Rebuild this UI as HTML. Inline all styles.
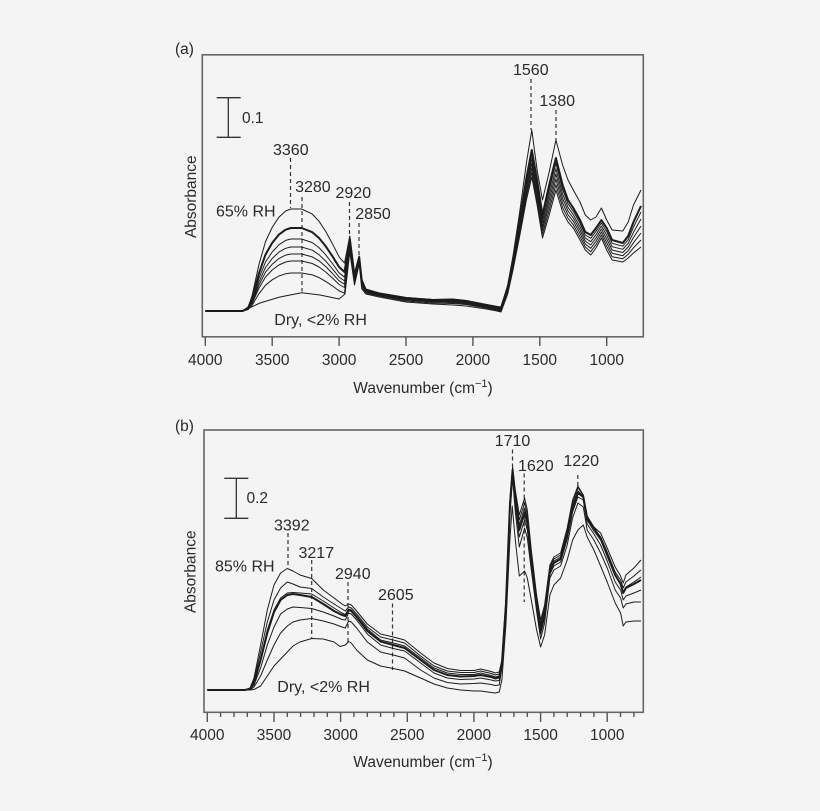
<!DOCTYPE html>
<html>
<head>
<meta charset="utf-8">
<style>
html,body{margin:0;padding:0;background:#f4f4f4;}
svg{display:block;}
text{font-family:"Liberation Sans",Arial,sans-serif;fill:#2a2a2a;}
</style>
</head>
<body>
<svg width="820" height="811" viewBox="0 0 820 811" xmlns="http://www.w3.org/2000/svg">
<rect x="0" y="0" width="820" height="811" fill="#f4f4f4"/>

<!-- ================= PANEL A ================= -->
<text x="175" y="54" font-size="15.5">(a)</text>
<rect x="202.3" y="54.8" width="441" height="282" fill="none" stroke="#666" stroke-width="1.6"/>
<g stroke="#555" stroke-width="1.4">
<line x1="205.3" y1="337" x2="205.3" y2="346"/>
<line x1="272.2" y1="337" x2="272.2" y2="346"/>
<line x1="339.1" y1="337" x2="339.1" y2="346"/>
<line x1="406" y1="337" x2="406" y2="346"/>
<line x1="472.9" y1="337" x2="472.9" y2="346"/>
<line x1="539.8" y1="337" x2="539.8" y2="346"/>
<line x1="606.7" y1="337" x2="606.7" y2="346"/>
</g>
<g font-size="15.5" text-anchor="middle">
<text x="205.3" y="365">4000</text>
<text x="272.2" y="365">3500</text>
<text x="339.1" y="365">3000</text>
<text x="406" y="365">2500</text>
<text x="472.9" y="365">2000</text>
<text x="539.8" y="365">1500</text>
<text x="606.7" y="365">1000</text>
</g>
<text x="423" y="393" font-size="15.5" text-anchor="middle">Wavenumber (cm<tspan dy="-6" font-size="11">−1</tspan><tspan dy="6">)</tspan></text>
<text transform="translate(196,196.7) rotate(-90)" font-size="15.5" text-anchor="middle">Absorbance</text>

<!-- scale bar -->
<g stroke="#333" stroke-width="1.3">
<line x1="228.3" y1="97.7" x2="228.3" y2="137.3"/>
<line x1="216.7" y1="97.7" x2="240.7" y2="97.7"/>
<line x1="216.7" y1="137.3" x2="240.7" y2="137.3"/>
</g>
<text x="242" y="122.8" font-size="15.5">0.1</text>

<!-- dashed markers -->
<g stroke="#333" stroke-width="1.2" stroke-dasharray="4,3">
<line x1="290.5" y1="158" x2="290.5" y2="208"/>
<line x1="302" y1="197" x2="302" y2="291.5"/>
<line x1="349.5" y1="202" x2="349.5" y2="236"/>
<line x1="359" y1="223" x2="359" y2="256"/>
<line x1="531" y1="79" x2="531" y2="130"/>
<line x1="556" y1="110" x2="556" y2="140"/>
</g>
<g font-size="16" text-anchor="middle">
<text x="290.8" y="154.8">3360</text>
<text x="312.9" y="192.2">3280</text>
<text x="353.3" y="197.8">2920</text>
<text x="373" y="218.8">2850</text>
<text x="530.8" y="74.8">1560</text>
<text x="557.2" y="106.2">1380</text>
</g>
<text x="216" y="216.5" font-size="16">65% RH</text>
<text x="274.3" y="324.8" font-size="16">Dry, &lt;2% RH</text>

<!-- curves A -->
<g fill="none" stroke="#1c1c1c" stroke-width="1" stroke-linejoin="round">
<path d="M205.3,311 L242.8,311 L248.2,306.9 L252.1,295.7 L258.8,265.1 L265.5,241.6 L272.2,227.4 L278.9,217.2 L285.6,211 L290.9,209 L301.6,209 L312.3,214.1 L319,221.2 L325.7,231.4 L332.4,243.7 L339.1,256.9 L344.5,263.1 L349.8,236 L354.5,273 L359.2,256 L361.8,279 L365.8,289 L379.2,293 L406,297.5 L432.8,299.5 L452.8,299 L466.2,300.5 L486.3,304.5 L497,306.5 L501,307 L507.7,285 L513,256 L519.7,212 L526.4,163 L531.8,130 L537.1,170 L542.5,200 L549.2,172 L555.9,140 L562.6,165 L568,180 L573.3,190 L580,202 L585.3,215 L590.7,220 L596,217 L601.4,208 L606.7,220 L612.1,230 L622.8,231 L628.2,222 L633.5,205 L641,190"/>
<path stroke-width="2" d="M205.3,311 L242.8,311 L248.2,307.7 L252.1,298.6 L258.8,273.7 L265.5,254.6 L272.2,242.9 L278.9,234.6 L285.6,229.7 L290.9,228 L301.6,228 L312.3,232.2 L319,238 L325.7,246.3 L332.4,256.2 L339.1,267 L344.5,272 L349.8,239 L354.5,276 L359.2,257 L361.8,281 L365.8,290 L379.2,293.5 L406,298 L432.8,300 L452.8,299.7 L466.2,301 L486.3,305 L497,307 L501,308 L507.7,288 L513,261 L519.7,220 L526.4,178 L531.8,150 L537.1,180 L542.5,215 L549.2,185 L555.9,158 L562.6,185 L568,200 L573.3,208 L580,220 L585.3,232 L590.7,235 L596,228 L601.4,220 L606.7,228 L612.1,240 L622.8,243 L628.2,236 L633.5,222 L641,206"/>
<path d="M205.3,311 L242.8,311 L248.2,308.1 L252.1,300.2 L258.8,278.6 L265.5,262 L272.2,252 L278.9,244.8 L285.6,240.4 L290.9,239 L301.6,239 L312.3,242.6 L319,247.6 L325.7,254.8 L332.4,263.5 L339.1,272.8 L344.5,277.2 L349.8,241 L354.5,277 L359.2,258 L361.8,282 L365.8,290.5 L379.2,294 L406,298.5 L432.8,300.5 L452.8,300.4 L466.2,301.7 L486.3,305.5 L497,307.6 L501,308.7 L507.7,289 L513,262.5 L519.7,222.7 L526.4,181.7 L531.8,154.5 L537.1,184.2 L542.5,218.8 L549.2,190 L555.9,163.3 L562.6,189.5 L568,203.7 L573.3,211.3 L580,223.3 L585.3,235 L590.7,238.3 L596,231.3 L601.4,223 L606.7,231.7 L612.1,243.3 L622.8,246.2 L628.2,239.7 L633.5,227.2 L641,212"/>
<path d="M205.3,311 L242.8,311 L248.2,308.4 L252.1,301.4 L258.8,282.2 L265.5,267.5 L272.2,258.5 L278.9,252.1 L285.6,248.3 L290.9,247 L301.6,247 L312.3,250.2 L319,254.7 L325.7,261.1 L332.4,268.8 L339.1,277.1 L344.5,280.9 L349.8,243 L354.5,278 L359.2,259 L361.8,283 L365.8,291 L379.2,294.5 L406,299 L432.8,301 L452.8,301 L466.2,302.3 L486.3,306 L497,308.2 L501,309.3 L507.7,290 L513,264 L519.7,225.3 L526.4,185.3 L531.8,159 L537.1,188.3 L542.5,222.7 L549.2,195 L555.9,168.7 L562.6,194 L568,207.3 L573.3,214.7 L580,226.7 L585.3,238 L590.7,241.7 L596,234.7 L601.4,226 L606.7,235.3 L612.1,246.7 L622.8,249.3 L628.2,243.3 L633.5,232.3 L641,219"/>
<path d="M205.3,311 L242.8,311 L248.2,308.7 L252.1,302.5 L258.8,285.4 L265.5,272.2 L272.2,264.3 L278.9,258.6 L285.6,255.1 L290.9,254 L301.6,254 L312.3,256.9 L319,260.8 L325.7,266.5 L332.4,273.4 L339.1,280.8 L344.5,284.2 L349.8,245 L354.5,279 L359.2,260 L361.8,284 L365.8,291.5 L379.2,295 L406,299.5 L432.8,301.5 L452.8,301.8 L466.2,303 L486.3,306.7 L497,308.8 L501,310 L507.7,291 L513,265.5 L519.7,228 L526.4,189 L531.8,163.5 L537.1,192.5 L542.5,226.5 L549.2,200 L555.9,174 L562.6,198.5 L568,211 L573.3,218 L580,230 L585.3,241 L590.7,245 L596,238 L601.4,229 L606.7,239 L612.1,250 L622.8,252.5 L628.2,247 L633.5,237.5 L641,226"/>
<path d="M205.3,311 L242.8,311 L248.2,309 L252.1,303.5 L258.8,288.5 L265.5,277 L272.2,270 L278.9,265 L285.6,262 L290.9,261 L301.6,261 L312.3,263.5 L319,267 L325.7,272 L332.4,278 L339.1,284.5 L344.5,287.5 L349.8,247 L354.5,280 L359.2,261 L361.8,285 L365.8,292 L379.2,295.5 L406,300 L432.8,302 L452.8,302.5 L466.2,303.7 L486.3,307.3 L497,309.4 L501,310.7 L507.7,292 L513,267 L519.7,230.7 L526.4,192.7 L531.8,168 L537.1,196.7 L542.5,230.3 L549.2,205 L555.9,179.3 L562.6,203 L568,214.7 L573.3,221.3 L580,233.3 L585.3,244 L590.7,248.3 L596,241.3 L601.4,232 L606.7,242.7 L612.1,253.3 L622.8,255.7 L628.2,250.7 L633.5,242.7 L641,233"/>
<path d="M205.3,311 L242.8,311 L248.2,309.5 L252.1,305.3 L258.8,293.9 L265.5,285.2 L272.2,279.8 L278.9,276 L285.6,273.8 L290.9,273 L301.6,273 L312.3,274.9 L319,277.6 L325.7,281.4 L332.4,285.9 L339.1,290.9 L344.5,293.1 L349.8,249 L354.5,282 L359.2,262 L361.8,287 L365.8,293 L379.2,296 L406,301 L432.8,303 L452.8,303.5 L466.2,304.5 L486.3,308 L497,310.2 L501,311.3 L507.7,293 L513,268.5 L519.7,233.3 L526.4,196.3 L531.8,172.5 L537.1,200.8 L542.5,234.2 L549.2,210 L555.9,184.7 L562.6,207.5 L568,218.3 L573.3,224.7 L580,236.7 L585.3,247 L590.7,251.7 L596,244.7 L601.4,235 L606.7,246.3 L612.1,256.7 L622.8,258.8 L628.2,254.3 L633.5,247.8 L641,240"/>
<path d="M205.3,311 L242.8,311 L260,303 L280,297 L301.6,292.7 L320,295 L339.1,299 L345,294 L349.8,252 L354.5,285 L359.2,264 L361.8,289 L365.8,294 L379.2,297 L406,302 L432.8,304 L452.8,305 L466.2,306 L486.3,309 L497,311 L501,312 L507.7,294 L513,270 L519.7,236 L526.4,200 L531.8,177 L537.1,205 L542.5,238 L549.2,215 L555.9,190 L562.6,212 L568,222 L573.3,228 L580,240 L585.3,250 L590.7,255 L596,248 L601.4,238 L606.7,250 L612.1,260 L622.8,262 L628.2,258 L633.5,253 L641,247"/>
</g>

<!-- ================= PANEL B ================= -->
<text x="175" y="431" font-size="15.5">(b)</text>
<rect x="204" y="430" width="439.3" height="282.3" fill="none" stroke="#666" stroke-width="1.6"/>
<g stroke="#555" stroke-width="1.4">
<line x1="207.3" y1="712.3" x2="207.3" y2="722"/>
<line x1="274" y1="712.3" x2="274" y2="722"/>
<line x1="340.6" y1="712.3" x2="340.6" y2="722"/>
<line x1="407.3" y1="712.3" x2="407.3" y2="722"/>
<line x1="473.9" y1="712.3" x2="473.9" y2="722"/>
<line x1="540.6" y1="712.3" x2="540.6" y2="722"/>
<line x1="607.2" y1="712.3" x2="607.2" y2="722"/>
<line x1="220.6" y1="712.3" x2="220.6" y2="717"/>
<line x1="234" y1="712.3" x2="234" y2="717"/>
<line x1="247.3" y1="712.3" x2="247.3" y2="717"/>
<line x1="260.6" y1="712.3" x2="260.6" y2="717"/>
<line x1="287.3" y1="712.3" x2="287.3" y2="717"/>
<line x1="300.6" y1="712.3" x2="300.6" y2="717"/>
<line x1="314" y1="712.3" x2="314" y2="717"/>
<line x1="327.3" y1="712.3" x2="327.3" y2="717"/>
<line x1="353.9" y1="712.3" x2="353.9" y2="717"/>
<line x1="367.3" y1="712.3" x2="367.3" y2="717"/>
<line x1="380.6" y1="712.3" x2="380.6" y2="717"/>
<line x1="393.9" y1="712.3" x2="393.9" y2="717"/>
<line x1="420.6" y1="712.3" x2="420.6" y2="717"/>
<line x1="433.9" y1="712.3" x2="433.9" y2="717"/>
<line x1="447.3" y1="712.3" x2="447.3" y2="717"/>
<line x1="460.6" y1="712.3" x2="460.6" y2="717"/>
<line x1="487.3" y1="712.3" x2="487.3" y2="717"/>
<line x1="500.6" y1="712.3" x2="500.6" y2="717"/>
<line x1="513.9" y1="712.3" x2="513.9" y2="717"/>
<line x1="527.3" y1="712.3" x2="527.3" y2="717"/>
<line x1="553.9" y1="712.3" x2="553.9" y2="717"/>
<line x1="567.2" y1="712.3" x2="567.2" y2="717"/>
<line x1="580.6" y1="712.3" x2="580.6" y2="717"/>
<line x1="593.9" y1="712.3" x2="593.9" y2="717"/>
<line x1="620.5" y1="712.3" x2="620.5" y2="717"/>
<line x1="633.9" y1="712.3" x2="633.9" y2="717"/>
</g>
<g font-size="15.5" text-anchor="middle">
<text x="207.3" y="740">4000</text>
<text x="274" y="740">3500</text>
<text x="340.6" y="740">3000</text>
<text x="407.3" y="740">2500</text>
<text x="473.9" y="740">2000</text>
<text x="540.6" y="740">1500</text>
<text x="607.2" y="740">1000</text>
</g>
<text x="423" y="767" font-size="15.5" text-anchor="middle">Wavenumber (cm<tspan dy="-6" font-size="11">−1</tspan><tspan dy="6">)</tspan></text>
<text transform="translate(195.5,571.7) rotate(-90)" font-size="15.5" text-anchor="middle">Absorbance</text>

<g stroke="#333" stroke-width="1.3">
<line x1="236.3" y1="478.3" x2="236.3" y2="518.3"/>
<line x1="224.3" y1="478.3" x2="248.3" y2="478.3"/>
<line x1="224.3" y1="518.3" x2="248.3" y2="518.3"/>
</g>
<text x="246.5" y="502.8" font-size="15.5">0.2</text>

<g stroke="#333" stroke-width="1.2" stroke-dasharray="4,3">
<line x1="288" y1="533" x2="288" y2="567"/>
<line x1="311.7" y1="560" x2="311.7" y2="638"/>
<line x1="348" y1="582" x2="348" y2="643"/>
<line x1="392.5" y1="603.5" x2="392.5" y2="670"/>
<line x1="512.5" y1="449.5" x2="512.5" y2="467"/>
<line x1="524.2" y1="473.5" x2="524.2" y2="602"/>
<line x1="577.8" y1="475" x2="577.8" y2="486"/>
</g>
<g font-size="16" text-anchor="middle">
<text x="291.8" y="530.5">3392</text>
<text x="316.3" y="558.2">3217</text>
<text x="352.8" y="578.8">2940</text>
<text x="395.8" y="599.8">2605</text>
<text x="512.5" y="446.2">1710</text>
<text x="535.8" y="471.2">1620</text>
<text x="581.2" y="466.2">1220</text>
</g>
<text x="215" y="571.5" font-size="16">85% RH</text>
<text x="277.3" y="692.2" font-size="16">Dry, &lt;2% RH</text>

<g fill="none" stroke="#1c1c1c" stroke-width="1" stroke-linejoin="round">
<!-- P7 top -->
<path d="M207.3,690 L244.6,690 L250,688 L254,678 L260.6,645 L267.3,610 L274,585 L280.6,573 L287.3,568.5 L293,571 L300,575 L311.7,578.5 L323.3,590 L334,598 L342,604 L345.3,606 L348.6,604 L351.3,605 L356.6,611 L367.3,624 L380.6,634 L393.3,637 L404.6,640 L420.6,653 L434,663 L447.3,668.5 L460.6,670.5 L474,670.5 L480.6,669 L491.2,671.5 L495.2,673 L499.2,672 L501.9,660 L505.9,600 L509.9,500 L512.6,467 L515.3,490 L519.3,515 L524.6,498 L527.3,510 L531.3,550 L536.6,595 L540.6,620 L544.6,605 L549.9,565 L553.9,557 L560.6,553 L567.2,528 L572.6,500 L577.9,486 L583.3,495 L587.2,516 L593.9,527 L600.6,533 L607.2,548 L615.2,567 L620.6,576 L623.2,583 L625.9,575 L633.9,568 L641,560"/>
<!-- P6 -->
<path d="M207.3,690 L244.6,690 L250,688.5 L254,680 L260.6,652 L267.3,622 L274,600 L280.6,588 L287.3,582 L293,584 L300,587 L311.7,588.5 L323.3,597 L334,604 L342,609 L345.3,611 L348.6,607 L351.3,608 L356.6,614 L367.3,627 L380.6,637 L393.3,640 L404.6,643 L420.6,656 L434,666 L447.3,671 L460.6,672.5 L474,672.5 L480.6,671 L491.2,673.5 L495.2,675 L499.2,674 L501.9,662 L505.9,602 L509.9,502 L512.6,468 L515.3,494 L519.3,520 L524.6,503 L527.3,515 L531.3,553 L536.6,598 L540.6,624 L544.6,608 L549.9,567 L553.9,559 L560.6,555 L567.2,531 L572.6,503 L577.9,488 L583.3,495 L587.2,518 L593.9,529 L600.6,537 L607.2,552 L615.2,572 L620.6,580 L623.2,588 L625.9,582 L633.9,576 L641,570"/>
<!-- P5 -->
<path d="M207.3,690 L244.6,690 L250,689 L254,682 L260.6,658 L267.3,630 L274,610 L280.6,598 L287.3,593 L293,592.5 L300,593 L311.7,594 L323.3,601 L334,608 L342,613 L345.3,614.5 L348.6,609 L351.3,610 L356.6,616 L367.3,629 L380.6,640 L393.3,643 L404.6,646 L420.6,658 L434,668 L447.3,673 L460.6,674.5 L474,674.5 L480.6,673 L491.2,675.5 L495.2,677 L499.2,676 L501.9,663 L505.9,604 L509.9,504 L512.6,469 L515.3,497 L519.3,525 L524.6,508 L527.3,519 L531.3,556 L536.6,600 L540.6,627 L544.6,611 L549.9,569 L553.9,561 L560.6,557 L567.2,533 L572.6,506 L577.9,491 L583.3,496 L587.2,520 L593.9,531 L600.6,540 L607.2,556 L615.2,576 L620.6,584 L623.2,592 L625.9,587 L633.9,582 L641,577"/>
<!-- P4 thick -->
<path stroke-width="2" d="M207.3,690 L244.6,690 L250,689 L254,683 L260.6,660 L267.3,633 L274,612 L280.6,600 L287.3,595 L293,594 L300,595 L311.7,597 L323.3,604 L334,611 L342,615 L345.3,616 L348.6,610 L351.3,611 L356.6,617 L367.3,631 L380.6,641.5 L393.3,645 L404.6,648 L420.6,660 L434,670 L447.3,675 L460.6,676.5 L474,676 L480.6,675 L491.2,677 L495.2,678.5 L499.2,677.5 L501.9,664 L505.9,605 L509.9,506 L512.6,470 L515.3,500 L519.3,530 L524.6,513 L527.3,523 L531.3,559 L536.6,602 L540.6,630 L544.6,614 L549.9,571 L553.9,563 L560.6,559 L567.2,535 L572.6,508 L577.9,493 L583.3,497 L587.2,519 L593.9,528 L600.6,538 L607.2,555 L615.2,575 L620.6,584 L623.2,593 L625.9,588 L633.9,584 L641,580"/>
<!-- P3 -->
<path d="M207.3,690 L244.6,690 L250,689.5 L254,685 L260.6,668 L267.3,645 L274,627 L280.6,614 L287.3,609 L293,607 L300,607.5 L311.7,608.5 L323.3,612 L334,616 L342,619.5 L345.3,620 L348.6,613 L351.3,614 L356.6,620 L367.3,634 L380.6,645 L393.3,648.5 L404.6,651 L420.6,663 L434,673 L447.3,678 L460.6,679.5 L474,679 L480.6,678 L491.2,680 L495.2,681 L499.2,680.5 L501.9,666 L505.9,608 L509.9,509 L512.6,472 L515.3,505 L519.3,537 L524.6,520 L527.3,530 L531.3,564 L536.6,606 L540.6,634 L544.6,618 L549.9,574 L553.9,566 L560.6,562 L567.2,539 L572.6,512 L577.9,497 L583.3,500 L587.2,524 L593.9,534 L600.6,545 L607.2,561 L615.2,582 L620.6,590 L623.2,600 L625.9,596 L633.9,593 L641,590"/>
<!-- P2 -->
<path d="M207.3,690 L244.6,690 L250,690 L254,687 L260.6,676 L267.3,660 L274,645 L280.6,633 L287.3,626 L293,622 L300,620 L311.7,618.5 L323.3,621 L334,624 L342,627 L345.3,628 L348.6,621 L351.3,622 L356.6,628 L367.3,642 L380.6,652 L393.3,655 L404.6,658 L420.6,670 L434,678 L447.3,682.5 L460.6,684 L474,683.5 L480.6,683 L491.2,684.5 L495.2,685.5 L499.2,685 L501.9,668 L505.9,612 L509.9,515 L512.6,478 L515.3,512 L519.3,547 L524.6,528 L527.3,538 L531.3,570 L536.6,611 L540.6,639 L544.6,623 L549.9,578 L553.9,570 L560.6,566 L567.2,545 L572.6,518 L577.9,503 L583.3,507 L587.2,530 L593.9,540 L600.6,553 L607.2,568 L615.2,590 L620.6,598 L623.2,608 L625.9,604 L633.9,602 L641,602"/>
<!-- P1 dry -->
<path d="M207.3,690 L244.6,690 L250,690 L254,689.5 L260.6,686 L267.3,676 L274,666 L280.6,659 L287.3,652 L293,646 L300,642 L311.7,638.5 L323.3,639 L334,642 L340,646.5 L345.3,645 L348.6,641.5 L351.3,643 L356.6,650 L367.3,660 L380.6,666 L393.3,668.5 L404.6,671 L420.6,678 L434,684 L447.3,688 L460.6,690 L474,691 L480.6,691 L491.2,692.5 L495.2,693 L499.2,692 L501.9,680 L505.9,625 L509.9,540 L512.2,506 L515.3,540 L519.3,576 L524.6,571 L527.3,578 L531.3,600 L536.6,630 L540.6,647 L544.6,635 L549.9,595 L553.9,585 L560.6,578 L567.2,560 L572.6,540 L577.9,530 L583.3,525 L587.2,537 L593.9,550 L600.6,566 L607.2,582 L615.2,603 L620.6,613 L623.2,626 L625.9,622 L633.9,621 L641,621"/>
</g>
</svg>
</body>
</html>
